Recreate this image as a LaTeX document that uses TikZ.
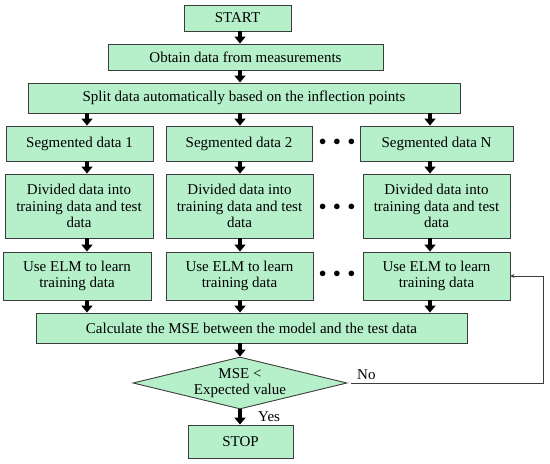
\documentclass[tikz,border=0pt]{standalone}
\usepackage{fontspec}
\setmainfont{Liberation Serif}
\usetikzlibrary{arrows.meta,shapes.geometric}
\definecolor{boxfill}{RGB}{182,240,203}
\definecolor{boxline}{RGB}{60,60,60}
\tikzset{mytext/.style={font=\fontsize{15}{16.7}\selectfont}}
\tikzset{mybox/.style={draw=boxline,fill=boxfill,line width=0.9pt,inner sep=0pt,align=center}}
\tikzset{myarrow/.style={black,line width=4pt,-{Triangle[width=11pt,length=7pt]}}}
\tikzset{myline/.style={boxline,line width=0.9pt,-{Stealth[width=4pt,length=4pt]}}}

\begin{document}
\begin{tikzpicture}[x=1pt,y=-1pt,every node/.style={mytext}]
	\useasboundingbox (0,0) rectangle (550,464);

	\coordinate (c1) at (87,0);
	\coordinate (c2) at (240,0);
	\coordinate (cN) at (430,0); % arrow columns

	\node[mybox,minimum width=107pt,minimum height=26pt] (start) at (237.5,18) {START};
	\node[mybox,minimum width=275pt,minimum height=26pt] (obtain) at (245.5,57) {Obtain data from measurements};
	\node[mybox,minimum width=432pt,minimum height=30pt] (split) at (244,98) {Split data automatically based on the inflection points};

	\node[mybox,minimum width=147pt,minimum height=35pt] (seg1) at (79.5,143.5) {Segmented data 1};
	\node[mybox,minimum width=146pt,minimum height=35pt] (seg2) at (239,143.5) {Segmented data 2};
	\node[mybox,minimum width=153pt,minimum height=35pt] (segN) at (436.5,143.5) {Segmented data N};

	\node[mybox,minimum width=148pt,minimum height=64pt] (div1) at (79,206) {Divided data into\\training data and test\\data};
	\node[mybox,minimum width=147pt,minimum height=64pt] (div2) at (239.5,206) {Divided data into\\training data and test\\data};
	\node[mybox,minimum width=147pt,minimum height=64pt] (divN) at (436.5,206) {Divided data into\\training data and test\\data};

	\node[mybox,minimum width=148pt,minimum height=48pt] (elm1) at (77,276) {Use ELM to learn\\training data};
	\node[mybox,minimum width=147pt,minimum height=48pt] (elm2) at (239.5,276) {Use ELM to learn\\training data};
	\node[mybox,minimum width=147pt,minimum height=48pt] (elmN) at (436.5,276) {Use ELM to learn\\training data};

	\node (dotsA) at (337,142) {$\bullet\;\bullet\;\bullet$};
	\node (dotsB) at (337,207) {$\bullet\;\bullet\;\bullet$};
	\node (dotsC) at (337,274) {$\bullet\;\bullet\;\bullet$};

	\node[mybox,minimum width=431pt,minimum height=30pt] (calc) at (251.5,328) {Calculate the MSE between the model and the test data};
	\node[mybox,diamond,minimum width=214pt,minimum height=52pt,label={[align=center]center:{MSE <\\Expected value}}] (test) at (240,383) {};
	\node[mybox,minimum width=105pt,minimum height=33pt] (stop) at (240.5,441.5) {STOP};

	\node[anchor=west,inner sep=0pt] (no) at (357,375) {No};
	\node[anchor=west,inner sep=0pt] (yes) at (258,417) {Yes};

	\draw[myarrow] (start.south -| c2) -- (obtain.north -| c2);
	\draw[myarrow] (obtain.south -| c2) -- (split.north -| c2);
	\foreach \i in {1,2,N} {
		\draw[myarrow] (split.south -| c\i) -- (seg\i.north -| c\i);
		\draw[myarrow] (seg\i.south -| c\i) -- (div\i.north -| c\i);
		\draw[myarrow] (div\i.south -| c\i) -- (elm\i.north -| c\i);
		\draw[myarrow] (elm\i.south -| c\i) -- (calc.north -| c\i);
	}
	\draw[myarrow] (calc.south -| c2) -- (test.north);
	\draw[myarrow] (test.south) -- (stop.north -| c2);

	\coordinate (back) at (543,383);
	\draw[myline,shorten <=4pt] (test.east) -- (back) |- (elmN.east); % back to training
\end{tikzpicture}
\end{document}
